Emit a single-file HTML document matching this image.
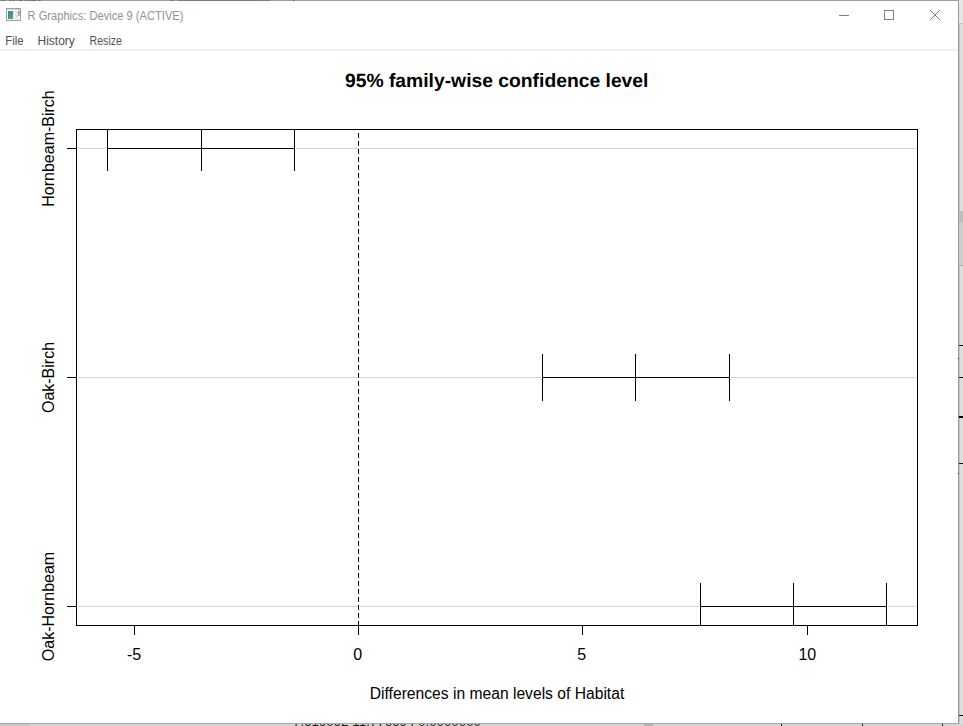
<!DOCTYPE html>
<html><head><meta charset="utf-8">
<style>
html,body{margin:0;padding:0;background:#fff;width:963px;height:726px;overflow:hidden;}
body{position:relative;font-family:"Liberation Sans",sans-serif;}
svg{position:absolute;left:0;top:0;}
text{font-family:"Liberation Sans",sans-serif;}
</style></head>
<body>
<svg width="963" height="726" viewBox="0 0 963 726" shape-rendering="crispEdges">
  <rect x="0" y="0" width="959" height="1" fill="#a0a0a0"/>
  <rect x="0" y="0" width="3" height="1" fill="#8a8a70"/>
  <rect x="3" y="0" width="2" height="1" fill="#6a6a8a"/>
  <rect x="9" y="0" width="2" height="1" fill="#8a7a60"/>
  <rect x="12" y="0" width="3" height="1" fill="#6a6a8a"/>
  <rect x="16" y="0" width="2" height="1" fill="#8a8a8a"/>
  <rect x="19" y="0" width="3" height="1" fill="#606090"/>
  <rect x="24" y="0" width="3" height="1" fill="#7a7a90"/>
  <rect x="28" y="0" width="2" height="1" fill="#606090"/>
  <rect x="31" y="0" width="5" height="1" fill="#6a6a8a"/>
  <rect x="38" y="0" width="3" height="1" fill="#707088"/>
  <rect x="170" y="0" width="4" height="1" fill="#7a7a7a"/>
  <rect x="178" y="0" width="92" height="1" fill="#787888"/>
  <rect x="293" y="0" width="1" height="1" fill="#505050"/>
  <rect x="959" y="0" width="4" height="726" fill="#dedede"/>
  <rect x="959" y="0" width="1" height="726" fill="#c4c4c4"/>
  <rect x="959" y="0" width="4" height="23" fill="#e6e6e6"/>
  <rect x="959" y="23" width="4" height="1" fill="#c8c8c8"/>
  <rect x="959" y="211" width="4" height="11" fill="#bdbdbd"/>
  <rect x="959" y="222" width="4" height="44" fill="#cdcdcd"/>
  <rect x="959" y="265" width="4" height="1" fill="#b0b0b0"/>
  <rect x="959" y="345" width="4" height="1" fill="#111"/>
  <rect x="959" y="377" width="4" height="1" fill="#111"/>
  <rect x="959" y="416" width="4" height="2" fill="#000"/>
  <rect x="959" y="463" width="4" height="1" fill="#111"/>
  <rect x="959" y="715" width="4" height="1" fill="#111"/>
  <rect x="0" y="724" width="963" height="2" fill="#d4d4d4"/>
  <rect x="0" y="724" width="30" height="2" fill="#c8c8c8"/>
  <rect x="644" y="724" width="9" height="2" fill="#b4b4b4"/>
  <rect x="781" y="724" width="1" height="2" fill="#222"/>
  <rect x="862" y="724" width="1" height="2" fill="#222"/>
  <rect x="942" y="724" width="1" height="2" fill="#222"/>
  <clipPath id="cb"><rect x="0" y="724" width="958" height="2"/></clipPath>
  <text x="293" y="726.3" font-family="Liberation Mono" font-size="13.33" fill="#1a1a1a" clip-path="url(#cb)" shape-rendering="geometricPrecision">7.619092 11.776694 0.0000000</text>
  <rect x="958" y="0" width="1" height="724" fill="#9a9a9a"/>
  <rect x="958" y="358" width="1" height="1" fill="#333"/>
  <rect x="958" y="473" width="1" height="1" fill="#333"/>
  <rect x="0" y="723" width="959" height="1" fill="#a8a8a8"/>
  <rect x="0" y="49" width="958" height="2" fill="#f0f0f0"/>

  <defs>
    <linearGradient id="gA" x1="0" y1="0" x2="0.3" y2="1"><stop offset="0" stop-color="#5a86c0"/><stop offset="0.45" stop-color="#3f8a95"/><stop offset="1" stop-color="#4aaa60"/></linearGradient>
    <linearGradient id="gB" x1="0" y1="0" x2="0" y2="1"><stop offset="0" stop-color="#7aa0d0"/><stop offset="1" stop-color="#9ad29a"/></linearGradient>
  </defs>
  <rect x="6" y="8" width="15" height="13" fill="#9da1a6"/>
  <rect x="7" y="9" width="13" height="11" fill="#ffffff"/>
  <rect x="7" y="9" width="13" height="1" fill="#d8dadd"/>
  <rect x="17" y="9" width="3" height="1" fill="#b8c4d4"/>
  <rect x="8" y="11" width="5" height="8" fill="url(#gA)"/>
  <rect x="13" y="11" width="1" height="8" fill="#ece8f0"/>
  <rect x="15" y="11" width="3" height="8" fill="#e6e6e6"/>
  <rect x="18" y="11" width="2" height="5" fill="url(#gB)"/>
  <rect x="7" y="19" width="13" height="1" fill="#f4f4f4"/>

  <rect x="839" y="15" width="10" height="1" fill="#808080"/>
  <rect x="884.5" y="10.5" width="9" height="9" fill="none" stroke="#808080" stroke-width="1"/>
  <path d="M930 10 L940 20 M940 10 L930 20" stroke="#808080" stroke-width="1" fill="none" shape-rendering="geometricPrecision"/>

  <rect x="77" y="148" width="840" height="1" fill="#d3d3d3"/>
  <rect x="77" y="377" width="840" height="1" fill="#d3d3d3"/>
  <rect x="77" y="606" width="840" height="1" fill="#d3d3d3"/>

  <g fill="#f4f4f4"><rect x="77" y="148" width="1" height="1"/><rect x="106" y="148" width="1" height="1"/><rect x="295" y="148" width="1" height="1"/><rect x="916" y="148" width="1" height="1"/><rect x="77" y="377" width="1" height="1"/><rect x="357" y="377" width="1" height="1"/><rect x="359" y="377" width="1" height="1"/><rect x="541" y="377" width="1" height="1"/><rect x="730" y="377" width="1" height="1"/><rect x="916" y="377" width="1" height="1"/><rect x="77" y="606" width="1" height="1"/><rect x="357" y="606" width="1" height="1"/><rect x="359" y="606" width="1" height="1"/><rect x="699" y="606" width="1" height="1"/><rect x="887" y="606" width="1" height="1"/><rect x="916" y="606" width="1" height="1"/></g>
  <g fill="#000"><rect x="358" y="133" width="1" height="5"/><rect x="358" y="141" width="1" height="5"/><rect x="358" y="149" width="1" height="5"/><rect x="358" y="157" width="1" height="5"/><rect x="358" y="165" width="1" height="5"/><rect x="358" y="173" width="1" height="5"/><rect x="358" y="181" width="1" height="5"/><rect x="358" y="189" width="1" height="5"/><rect x="358" y="197" width="1" height="5"/><rect x="358" y="205" width="1" height="5"/><rect x="358" y="213" width="1" height="5"/><rect x="358" y="221" width="1" height="5"/><rect x="358" y="229" width="1" height="5"/><rect x="358" y="237" width="1" height="5"/><rect x="358" y="245" width="1" height="5"/><rect x="358" y="253" width="1" height="5"/><rect x="358" y="261" width="1" height="5"/><rect x="358" y="269" width="1" height="5"/><rect x="358" y="277" width="1" height="5"/><rect x="358" y="285" width="1" height="5"/><rect x="358" y="293" width="1" height="5"/><rect x="358" y="301" width="1" height="5"/><rect x="358" y="309" width="1" height="5"/><rect x="358" y="317" width="1" height="5"/><rect x="358" y="325" width="1" height="5"/><rect x="358" y="333" width="1" height="5"/><rect x="358" y="341" width="1" height="5"/><rect x="358" y="349" width="1" height="5"/><rect x="358" y="357" width="1" height="5"/><rect x="358" y="365" width="1" height="5"/><rect x="358" y="373" width="1" height="5"/><rect x="358" y="381" width="1" height="5"/><rect x="358" y="389" width="1" height="5"/><rect x="358" y="397" width="1" height="5"/><rect x="358" y="405" width="1" height="5"/><rect x="358" y="413" width="1" height="5"/><rect x="358" y="421" width="1" height="5"/><rect x="358" y="429" width="1" height="5"/><rect x="358" y="437" width="1" height="5"/><rect x="358" y="445" width="1" height="5"/><rect x="358" y="453" width="1" height="5"/><rect x="358" y="461" width="1" height="5"/><rect x="358" y="469" width="1" height="5"/><rect x="358" y="477" width="1" height="5"/><rect x="358" y="485" width="1" height="5"/><rect x="358" y="493" width="1" height="5"/><rect x="358" y="501" width="1" height="5"/><rect x="358" y="509" width="1" height="5"/><rect x="358" y="517" width="1" height="5"/><rect x="358" y="525" width="1" height="5"/><rect x="358" y="533" width="1" height="5"/><rect x="358" y="541" width="1" height="5"/><rect x="358" y="549" width="1" height="5"/><rect x="358" y="557" width="1" height="5"/><rect x="358" y="565" width="1" height="5"/><rect x="358" y="573" width="1" height="5"/><rect x="358" y="581" width="1" height="5"/><rect x="358" y="589" width="1" height="5"/><rect x="358" y="597" width="1" height="5"/><rect x="358" y="605" width="1" height="5"/><rect x="358" y="613" width="1" height="5"/><rect x="358" y="621" width="1" height="5"/></g>

  <g fill="#000">
    <rect x="107" y="148" width="188" height="1"/>
    <rect x="107" y="129" width="1" height="42"/>
    <rect x="201" y="129" width="1" height="42"/>
    <rect x="294" y="129" width="1" height="42"/>
    <rect x="542" y="377" width="188" height="1"/>
    <rect x="542" y="354" width="1" height="47"/>
    <rect x="635" y="354" width="1" height="47"/>
    <rect x="729" y="354" width="1" height="47"/>
    <rect x="700" y="606" width="187" height="1"/>
    <rect x="700" y="583" width="1" height="43"/>
    <rect x="793" y="583" width="1" height="43"/>
    <rect x="886" y="583" width="1" height="43"/>
  </g>
  <g fill="#000">
    <rect x="76" y="129" width="842" height="1"/>
    <rect x="76" y="625" width="842" height="1"/>
    <rect x="76" y="129" width="1" height="497"/>
    <rect x="917" y="129" width="1" height="497"/>
    <rect x="67" y="148" width="9" height="1"/>
    <rect x="67" y="377" width="9" height="1"/>
    <rect x="67" y="606" width="9" height="1"/>
    <rect x="134" y="626" width="1" height="9"/>
    <rect x="358" y="626" width="1" height="9"/>
    <rect x="582" y="626" width="1" height="9"/>
    <rect x="807" y="626" width="1" height="9"/>
  </g>

  <g fill="#000" shape-rendering="geometricPrecision">
    <text transform="translate(496.7,87) scale(1,1)" x="0" y="0" text-rendering="geometricPrecision" font-size="19.2" font-weight="bold" text-anchor="middle" textLength="303.5" lengthAdjust="spacingAndGlyphs">95% family-wise confidence level</text>
    <text x="134" y="660" font-size="16" text-anchor="middle">-5</text>
    <text x="357.8" y="660" font-size="16" text-anchor="middle">0</text>
    <text x="581.8" y="660" font-size="16" text-anchor="middle">5</text>
    <text x="807.3" y="660" font-size="16" text-anchor="middle">10</text>
    <text x="497" y="699" font-size="16" text-anchor="middle" textLength="254.5" lengthAdjust="spacingAndGlyphs">Differences in mean levels of Habitat</text>
    <text transform="translate(53.5,148.5) rotate(-90)" font-size="16" text-anchor="middle">Hornbeam-Birch</text>
    <text transform="translate(53.5,377.5) rotate(-90)" font-size="16" text-anchor="middle">Oak-Birch</text>
    <text transform="translate(53.5,606.5) rotate(-90)" font-size="16" text-anchor="middle">Oak-Hornbeam</text>
  </g>
  <g shape-rendering="geometricPrecision">
    <text x="27.5" y="20" font-size="12" fill="#939393" textLength="156" lengthAdjust="spacingAndGlyphs">R Graphics: Device 9 (ACTIVE)</text>
    <text x="5.3" y="45" font-size="12" fill="#505050" textLength="18.2" lengthAdjust="spacingAndGlyphs">File</text>
    <text x="37.5" y="45" font-size="12" fill="#505050">History</text>
    <text x="89.5" y="45" font-size="12" fill="#505050" textLength="32.5" lengthAdjust="spacingAndGlyphs">Resize</text>
  </g>
</svg>
</body></html>
